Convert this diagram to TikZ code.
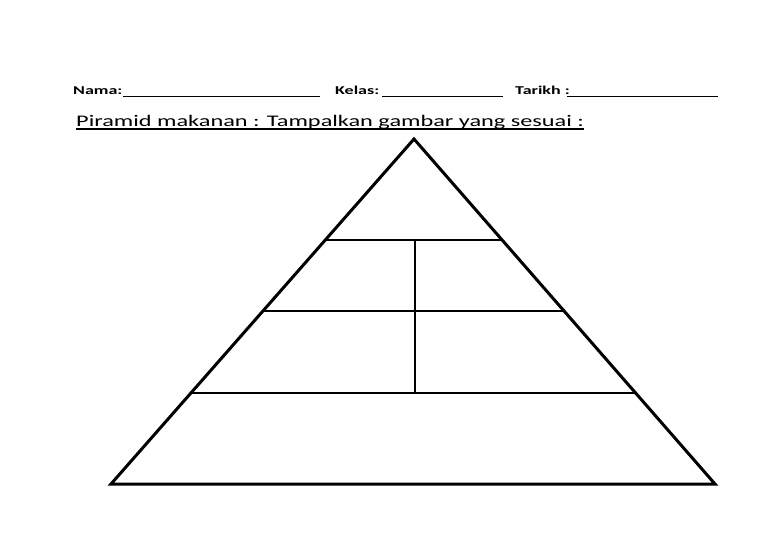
\documentclass[tikz,border=0pt]{standalone}
\usepackage{fontspec}
\setmainfont{Carlito}
\begin{document}
\begin{tikzpicture}[x=1pt,y=-1pt,
  outer/.style={line width=3pt,line join=miter},
  inner/.style={line width=2pt},
  blank/.style={line width=1.6pt},
  hdr/.style={font=\bfseries\fontsize{12}{14}\selectfont,inner sep=0pt,anchor=base west},
  ttl/.style={font=\fontsize{16.2}{19}\selectfont,inner sep=0pt,anchor=base west}]
\useasboundingbox (0,0) rectangle (768,543);
% header
\node[hdr] (nama) at (73,94) {\scalebox{1.5}[1]{Nama:}};
\draw[blank] (123,96.5) -- (320,96.5);
\node[hdr] (kelas) at (335,94) {\scalebox{1.5}[1]{Kelas:}};
\draw[blank] (382,96.5) -- (503,96.5);
\node[hdr] (tarikh) at (515,94) {\scalebox{1.5}[1]{Tarikh :}};
\draw[blank] (567,96.5) -- (718,96.5);
% title
\node[ttl] (title) at (76,126) {\scalebox{1.5}[1]{Piramid makanan : Tampalkan gambar yang sesuai :}};
\draw[line width=1.3pt] (76,129) -- (title.base east |- 0,129);
% pyramid
\coordinate (A) at (414,139);
\coordinate (L) at (111,484);
\coordinate (R) at (715,484);
\draw[inner] (325.3,240) -- (502,240);
\draw[inner] (263,311) -- (564,311);
\draw[inner] (191,393) -- (635.5,393);
\draw[inner] (415,240) -- (415,393);
\draw[outer] (A) -- (L) -- (R) -- cycle;
\end{tikzpicture}
\end{document}
